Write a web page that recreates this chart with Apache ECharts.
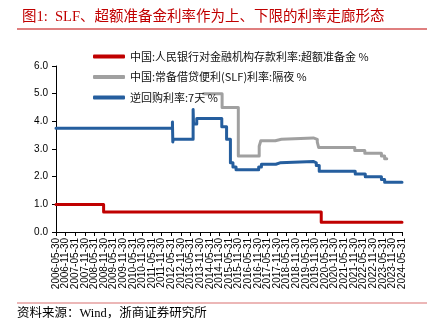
<!DOCTYPE html>
<html>
<head>
<meta charset="utf-8">
<script src="https://cdn.jsdelivr.net/npm/echarts@6/dist/echarts.min.js"></script>
<style>
  html, body { margin: 0; padding: 0; background: #fff; }
  #chart { width: 435px; height: 330px; }
</style>
</head>
<body>
<div id="chart"></div>
<script>
// Half-year tick labels along the bottom axis
const tickLabels = [
  '2006-05-30','2006-11-30','2007-05-31','2007-11-30','2008-05-31','2008-11-30',
  '2009-05-31','2009-11-30','2010-05-31','2010-11-30','2011-05-31','2011-11-30',
  '2012-05-31','2012-11-30','2013-05-31','2013-11-30','2014-05-31','2014-11-30',
  '2015-05-31','2015-11-30','2016-05-31','2016-11-30','2017-05-31','2017-11-30',
  '2018-05-31','2018-11-30','2019-05-31','2019-11-30','2020-05-31','2020-11-30',
  '2021-05-31','2021-11-30','2022-05-31','2022-11-30','2023-05-31','2023-11-30',
  '2024-05-31'
];

const seriesNames = [
  '中国:人民银行对金融机构存款利率:超额准备金 %',
  '中国:常备借贷便利(SLF)利率:隔夜 %',
  '逆回购利率:7天 %'
];

// Rate change points [date, %]; each value holds until the next date
const excessReserveRate = [
  ['2006-05-30', 0.99], ['2008-11-20', 0.72], ['2020-03-18', 0.35], ['2024-05-31', 0.35]
];

const slfOvernightRate = [
  ['2014-02-01', 5.00], ['2015-01-20', 4.50], ['2015-11-24', 2.75],
  ['2016-12-25', 3.10], ['2017-01-25', 3.30], ['2017-10-27', 3.35],
  ['2018-02-20', 3.40], ['2019-10-20', 3.35], ['2020-01-03', 3.25],
  ['2020-01-30', 3.05], ['2021-12-15', 2.95], ['2022-06-24', 2.85],
  ['2023-05-06', 2.75], ['2023-07-06', 2.65], ['2023-08-15', 2.65]
];

const reverseRepo7dRate = [
  ['2006-05-30', 3.75], ['2012-06-20', 3.98], ['2012-06-27', 3.25],
  ['2012-07-05', 3.35], ['2013-07-18', 4.43], ['2013-07-26', 3.90],
  ['2013-09-25', 4.10], ['2015-01-14', 3.80], ['2015-04-15', 3.35],
  ['2015-06-27', 2.50], ['2015-08-14', 2.35], ['2015-10-12', 2.25],
  ['2016-12-15', 2.35], ['2017-02-05', 2.45], ['2017-11-06', 2.50],
  ['2018-01-24', 2.55], ['2019-10-18', 2.50], ['2019-12-15', 2.40],
  ['2020-02-09', 2.20], ['2021-12-24', 2.10], ['2022-07-03', 2.00],
  ['2023-05-06', 1.90], ['2023-07-06', 1.80], ['2024-05-31', 1.80]
];

const yTicks = { min: 0, max: 6, interval: 1 };

const colors = ['#C00000', '#A0A0A0', '#255E9E'];
const cjk = "'Liberation Serif', 'Noto Sans CJK SC', serif";
const sans = "'Liberation Sans', 'Noto Sans CJK SC', sans-serif";

const chart = echarts.init(document.getElementById('chart'), null, { renderer: 'canvas' });

function lineSeries(name, data, color, z) {
  return {
    name: name,
    type: 'line',
    xAxisIndex: 1,
    step: 'end',
    data: data,
    showSymbol: false,
    symbol: 'none',
    z: z,
    lineStyle: { color: color, width: 3, cap: 'round', join: 'round' },
    itemStyle: { color: color }
  };
}

chart.setOption({
  animation: false,
  backgroundColor: '#fff',
  color: colors,
  title: {
    text: '图1:  SLF、超额准备金利率作为上、下限的利率走廊形态',
    left: 17,
    top: 5,
    textStyle: { color: '#C00000', fontSize: 14.5, fontWeight: 'normal', fontFamily: cjk }
  },
  graphic: [
    { type: 'line', shape: { x1: 17, y1: 29, x2: 427, y2: 29 },
      style: { stroke: '#C00000', lineWidth: 1.2 } },
    { type: 'line', shape: { x1: 17, y1: 303, x2: 427, y2: 303 },
      style: { stroke: '#D97070', lineWidth: 1.2 } },
    { type: 'text', left: 17, top: 307,
      style: { text: '资料来源：Wind，浙商证券研究所', fill: '#000',
               font: "12.5px 'Liberation Serif', 'Noto Sans CJK SC', serif" } }
  ],
  legend: {
    orient: 'vertical',
    left: 88,
    top: 46,
    itemGap: 9.5,
    itemWidth: 32,
    itemHeight: 4,
    icon: 'roundRect',
    textStyle: { fontSize: 11, color: '#111', fontFamily: "'Noto Sans CJK SC', sans-serif" },
    data: seriesNames
  },
  grid: { left: 56, right: 33, top: 66, bottom: 98, containLabel: false },
  xAxis: [
    {
      type: 'category',
      data: tickLabels,
      boundaryGap: false,
      axisLine: { lineStyle: { color: '#000', width: 1 } },
      axisTick: { show: true, interval: 0, length: 4, lineStyle: { color: '#000' } },
      axisLabel: { interval: 0, rotate: 90, fontSize: 10, color: '#000', margin: 6, fontFamily: sans },
      splitLine: { show: false }
    },
    {
      type: 'time',
      min: tickLabels[0],
      max: tickLabels[tickLabels.length - 1],
      show: false
    }
  ],
  yAxis: {
    type: 'value',
    min: yTicks.min,
    max: yTicks.max,
    interval: yTicks.interval,
    axisLine: { show: true, lineStyle: { color: '#000', width: 1 } },
    axisTick: { show: true, length: 4, lineStyle: { color: '#000' } },
    axisLabel: { fontSize: 10, color: '#000', margin: 8, fontFamily: sans,
                 formatter: v => v.toFixed(1) },
    splitLine: { show: false }
  },
  series: [
    lineSeries(seriesNames[0], excessReserveRate, colors[0], 3),
    lineSeries(seriesNames[1], slfOvernightRate, colors[1], 2),
    lineSeries(seriesNames[2], reverseRepo7dRate, colors[2], 4)
  ]
});
</script>
</body>
</html>
